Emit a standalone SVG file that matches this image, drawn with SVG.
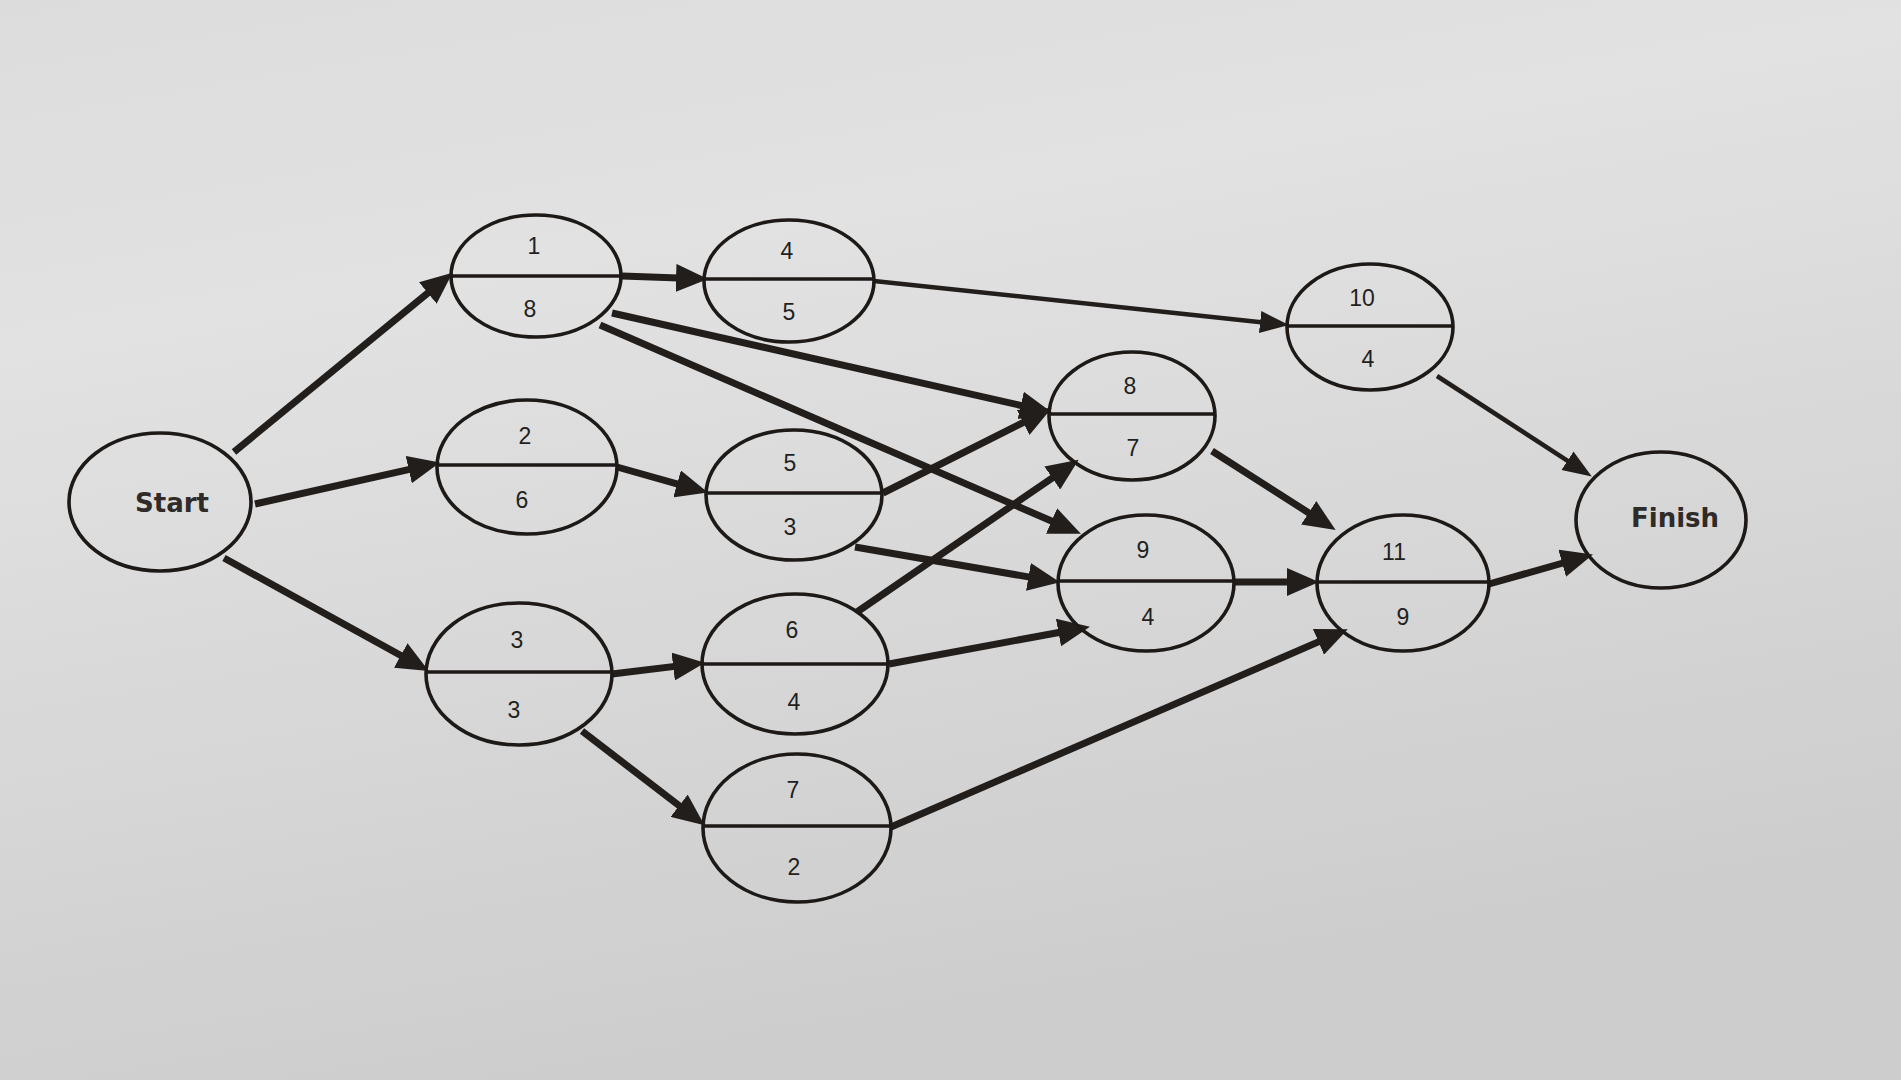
<svg xmlns="http://www.w3.org/2000/svg" width="1901" height="1080" viewBox="0 0 1901 1080">
<defs>
<linearGradient id="bg" x1="0" y1="0" x2="0.3" y2="1">
<stop offset="0" stop-color="#dcdcdc"/>
<stop offset="0.3" stop-color="#e2e2e2"/>
<stop offset="1" stop-color="#cdcdcd"/>
</linearGradient>
<marker id="ah" markerUnits="userSpaceOnUse" markerWidth="34" markerHeight="28" refX="10" refY="14" orient="auto">
<path d="M0,0 L32,14 L0,28 z" fill="#221e1b"/>
</marker>
<marker id="ahs" markerUnits="userSpaceOnUse" markerWidth="32" markerHeight="26" refX="8" refY="12" orient="auto">
<path d="M0,1 L29,12 L0,23 z" fill="#221e1b"/>
</marker>
</defs>
<style>
.n ellipse{fill:none;stroke:#1c1917;stroke-width:3.6}
.n line{stroke:#1c1917;stroke-width:3.6}
.n text{font-family:"Liberation Sans",Arial,sans-serif;font-size:23px;fill:#221f1d;text-anchor:middle;dominant-baseline:central}
.n text.big{font-family:"DejaVu Sans",Verdana,sans-serif;font-size:26px;font-weight:bold;fill:#2e2b29}
.c line{stroke:#221e1b;stroke-width:7;marker-end:url(#ah)}
.c line.thin{stroke-width:4.5;marker-end:url(#ahs)}
</style>
<rect width="1901" height="1080" fill="url(#bg)"/>
<g class="c" id="connectors">
<line x1="234" y1="452" x2="435.5" y2="286.7"/>
<line x1="255" y1="504" x2="418.5" y2="467.4"/>
<line x1="224" y1="558" x2="409.5" y2="660.3"/>
<line x1="622" y1="276" x2="686" y2="278.3"/>
<line x1="612" y1="313" x2="1030.5" y2="407.6"/>
<line x1="600" y1="325" x2="1060.7" y2="525"/>
<line class="thin" x1="874" y1="281" x2="1268.1" y2="322.9"/>
<line x1="617" y1="467" x2="686.7" y2="486.6"/>
<line x1="883" y1="493" x2="1032.1" y2="418"/>
<line x1="855" y1="547" x2="1038.3" y2="578.6"/>
<line x1="612" y1="674" x2="683.1" y2="665.4"/>
<line x1="582" y1="731" x2="687.1" y2="811.8"/>
<line x1="857" y1="612" x2="1060.5" y2="472.3"/>
<line x1="889" y1="664" x2="1068.3" y2="630.7"/>
<line x1="891" y1="827" x2="1327.6" y2="637.9"/>
<line x1="1212" y1="451" x2="1317.1" y2="518.2"/>
<line x1="1234" y1="582" x2="1297" y2="582"/>
<line class="thin" x1="1437" y1="376" x2="1574.2" y2="465.1"/>
<line x1="1489" y1="584" x2="1571.8" y2="560.5"/>
</g>
<g class="n" id="start"><ellipse cx="160" cy="502" rx="91" ry="69"/><text class="big" x="172" y="503">Start</text></g>
<g class="n" id="n1"><ellipse cx="536" cy="276" rx="85" ry="61"/><line x1="451" y1="276" x2="621" y2="276"/><text x="534" y="246">1</text><text x="530" y="309">8</text></g>
<g class="n" id="n4"><ellipse cx="789" cy="281" rx="85" ry="61"/><line x1="704" y1="279" x2="874" y2="279"/><text x="787" y="251">4</text><text x="789" y="312">5</text></g>
<g class="n" id="n10"><ellipse cx="1370" cy="327" rx="83" ry="63"/><line x1="1287" y1="326" x2="1453" y2="326"/><text x="1362" y="298">10</text><text x="1368" y="359">4</text></g>
<g class="n" id="n2"><ellipse cx="527" cy="467" rx="90" ry="67"/><line x1="437" y1="465" x2="617" y2="465"/><text x="525" y="436">2</text><text x="522" y="500">6</text></g>
<g class="n" id="n5"><ellipse cx="794" cy="495" rx="88" ry="65"/><line x1="706" y1="493" x2="882" y2="493"/><text x="790" y="463">5</text><text x="790" y="527">3</text></g>
<g class="n" id="n8"><ellipse cx="1132" cy="416" rx="83" ry="64"/><line x1="1049" y1="414" x2="1215" y2="414"/><text x="1130" y="386">8</text><text x="1133" y="448">7</text></g>
<g class="n" id="n9"><ellipse cx="1146" cy="583" rx="88" ry="68"/><line x1="1058" y1="581" x2="1234" y2="581"/><text x="1143" y="550">9</text><text x="1148" y="617">4</text></g>
<g class="n" id="n11"><ellipse cx="1403" cy="583" rx="86" ry="68"/><line x1="1317" y1="582" x2="1489" y2="582"/><text x="1394" y="552">11</text><text x="1403" y="617">9</text></g>
<g class="n" id="finish"><ellipse cx="1661" cy="520" rx="85" ry="68"/><text class="big" x="1675" y="518">Finish</text></g>
<g class="n" id="n3"><ellipse cx="519" cy="674" rx="93" ry="71"/><line x1="426" y1="672" x2="612" y2="672"/><text x="517" y="640">3</text><text x="514" y="710">3</text></g>
<g class="n" id="n6"><ellipse cx="795" cy="664" rx="93" ry="70"/><line x1="702" y1="664" x2="888" y2="664"/><text x="792" y="630">6</text><text x="794" y="702">4</text></g>
<g class="n" id="n7"><ellipse cx="797" cy="828" rx="94" ry="74"/><line x1="703" y1="826" x2="891" y2="826"/><text x="793" y="790">7</text><text x="794" y="867">2</text></g>
</svg>
